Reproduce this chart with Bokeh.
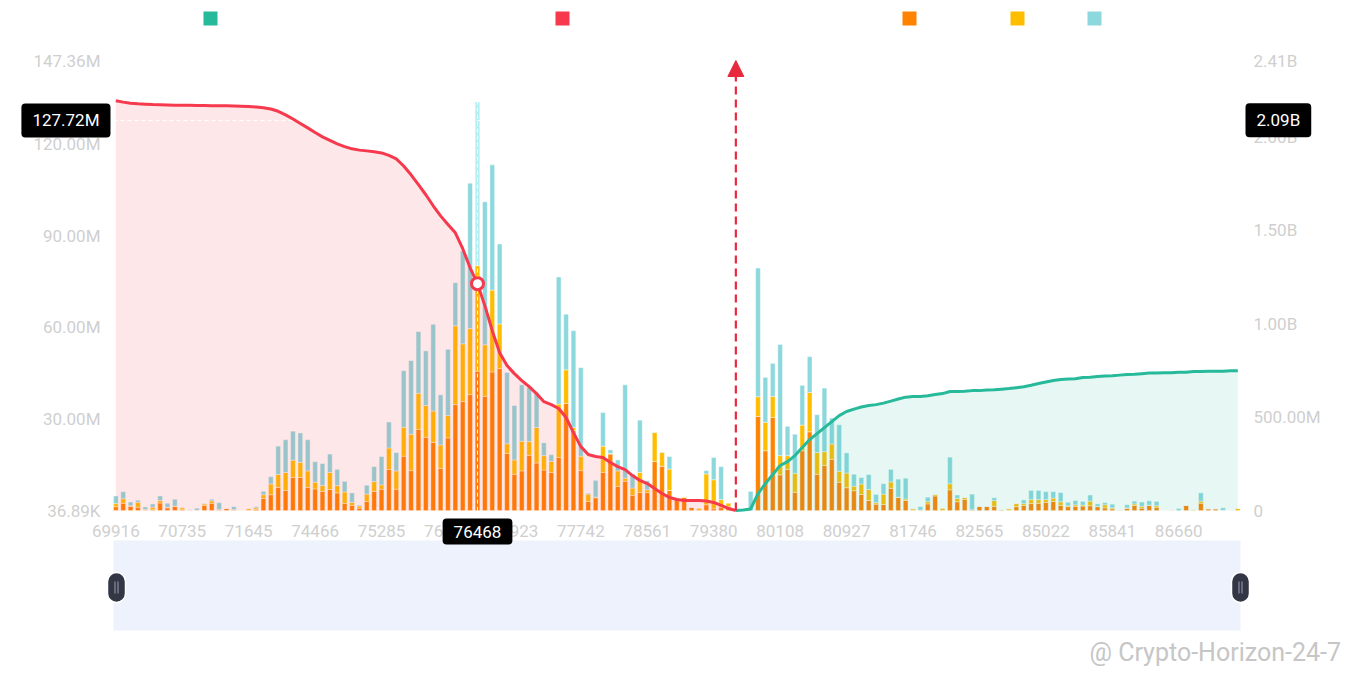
import numpy as np
from bokeh.plotting import figure
from bokeh.models import (Range1d, Label, BoxAnnotation, Arrow, NormalHead, ColumnDataSource)
from bokeh.core.properties import value
from bokeh.embed import file_html
from bokeh.resources import INLINE

# ---------------- data ----------------
tick_prices = ["69916", "70735", "71645", "74466", "75285", "76104", "76923", "77742", "78561",
               "79380", "80108", "80927", "81746", "82565", "85022", "85841", "86660"]
tick_step = 9

# liquidation volume per price level (millions), three leverage groups
orange = [1.3, 2.4, 1.4, 1.1, 0.2, 0.3, 2.5, 0.9, 1.4, 0.3,
          0.1, 0.1, 1.7, 2.4, 0.3, 0.7, 0.2, 0, 0.2, 0.4,
          4.0, 5.2, 7.6, 6.6, 10.9, 10.9, 7.6, 7.1, 6.3, 6.9,
          5.8, 2.4, 1.7, 0.8, 3.0, 6.3, 7.0, 13.5, 7.0, 17.8,
          13.1, 26.6, 24.0, 22.3, 13.8, 23.8, 34.7, 35.7, 38.0, 45.6,
          37.4, 45.4, 46.5, 18.7, 11.9, 13.0, 18.1, 15.6, 13.3, 12.5,
          17.4, 35.1, 26.2, 13.1, 3.0, 4.2, 12.5, 18.5, 7.9, 9.6,
          5.0, 5.9, 5.9, 16.1, 14.5, 6.6, 3.8, 4.3, 1.1, 0.1,
          1.9, 0.6, 1.1, 1.3, 0, 0, 0, 30.8, 19.6, 30.5,
          11.7, 13.5, 6.0, 19.6, 25.8, 11.9, 14.8, 16.8, 9.3, 7.5,
          6.5, 5.3, 3.3, 2.1, 2.0, 7.3, 4.3, 3.3, 0.1, 0.2,
          2.2, 4.8, 0.1, 6.8, 2.9, 3.7, 0.3, 1.4, 1.4, 1.4,
          0.2, 0.1, 1.3, 1.7, 2.3, 2.4, 2.7, 3.0, 1.7, 1.3,
          1.4, 1.5, 1.6, 1.3, 0.9, 0.6, 0.1, 0.7, 1.7, 0.8,
          1.7, 1.1, 0, 0.1, 0, 1.7, 0.1, 2.4, 0.6, 0.6,
          0.1, 0, 0]
yellow = [1.0, 1.5, 0.2, 1.6, 0.2, 0.8, 0.8, 0.2, 0.1, 0.6,
          0.1, 0.0, 0.5, 0.8, 0.1, 0, 0.1, 0, 0.5, 0.5,
          1.2, 3.5, 4.2, 5.9, 5.6, 4.9, 5.4, 2.2, 1.9, 5.6,
          2.4, 3.7, 1.0, 0.7, 2.4, 3.2, 1.4, 7.0, 6.0, 9.5,
          11.9, 11.8, 10.4, 10.3, 7.7, 7.3, 25.8, 18.9, 21.6, 34.6,
          16.9, 26.8, 14.6, 3.2, 4.7, 9.7, 4.5, 11.6, 4.7, 3.6,
          17.5, 11.0, 1.0, 4.7, 2.4, 0.2, 8.6, 0.2, 5.1, 1.0,
          2.4, 6.6, 0.9, 9.5, 4.6, 7.0, 0.3, 0.2, 0, 0.7,
          10.1, 9.5, 2.5, 1.2, 0, 0, 0, 6.5, 9.3, 6.9,
          6.3, 4.5, 6.2, 8.4, 12.9, 7.1, 4.5, 5.0, 3.6, 4.8,
          1.5, 3.4, 3.6, 0.5, 3.4, 2.1, 0.1, 0.5, 0.5, 0,
          0.8, 0.5, 0.7, 2.0, 1.1, 0.6, 0, 0, 0, 1.9,
          0.1, 0.5, 1.0, 0.6, 1.3, 1.2, 0.9, 1.1, 1.2, 0.3,
          0.5, 0.3, 1.5, 0.1, 1.0, 0.3, 0.1, 0.2, 0.5, 0.6,
          0.1, 0.5, 0, 0.1, 0, 0, 0.2, 0.7, 0, 0,
          0, 0, 0.7]
cyan = [2.5, 2.3, 1.2, 0.7, 0.8, 1.1, 1.5, 1.3, 2.2, 0.1,
        0.1, 0.7, 0.1, 0.5, 2.2, 0, 1.0, 0, 0, 0.4,
        1.1, 2.4, 9.3, 10.7, 9.5, 9.6, 10.2, 6.7, 7.2, 6.0,
        5.3, 3.5, 3.1, 0.3, 2.9, 4.9, 9.3, 8.5, 6.0, 18.5,
        24.1, 20.2, 17.9, 28.4, 16.4, 21.7, 14.1, 30.4, 47.6, 53.6,
        46.8, 41.0, 26.2, 23.3, 17.8, 18.5, 17.7, 11.2, 4.2, 2.2,
        41.6, 18.2, 31.7, 29.0, 0.3, 5.5, 11.0, 1.2, 3.6, 30.6,
        4.6, 17.1, 3.0, 0.1, 0.1, 4.1, 0, 0, 0, 0,
        1.1, 7.3, 10.8, 0, 0, 0, 6.3, 42.1, 14.7, 10.8,
        36.4, 9.6, 12.8, 13.0, 11.7, 12.4, 20.8, 8.5, 15.2, 6.6,
        3.9, 2.1, 4.9, 2.7, 3.4, 4.1, 5.9, 6.8, 0, 1.1,
        1.4, 0, 0, 8.7, 1.1, 0, 5.1, 0, 0, 0.9,
        0, 0, 0, 1.2, 3.0, 3.0, 2.6, 2.1, 3.0, 1.1,
        1.4, 1.2, 2.0, 0.8, 0.7, 1.2, 0, 1.0, 0.9, 1.4,
        1.4, 1.4, 0, 0, 0.7, 0, 0, 2.7, 0, 0,
        0.8, 0, 0]

# cumulative liquidation (billions)
red_cum = [2.194, 2.187, 2.181, 2.178, 2.176, 2.174, 2.173, 2.172, 2.171, 2.170,
           2.170, 2.169, 2.169, 2.168, 2.168, 2.167, 2.166, 2.165, 2.163, 2.161,
           2.157, 2.150, 2.138, 2.119, 2.097, 2.073, 2.049, 2.024, 2.001, 1.982,
           1.964, 1.949, 1.937, 1.930, 1.926, 1.921, 1.915, 1.902, 1.883, 1.845,
           1.798, 1.745, 1.691, 1.632, 1.578, 1.532, 1.487, 1.402, 1.300, 1.215,
           1.097, 0.963, 0.845, 0.776, 0.733, 0.696, 0.663, 0.626, 0.583, 0.567,
           0.546, 0.498, 0.417, 0.342, 0.300, 0.289, 0.284, 0.257, 0.235, 0.219,
           0.187, 0.161, 0.144, 0.118, 0.091, 0.070, 0.059, 0.054, 0.054, 0.053,
           0.051, 0.043, 0.027, 0.011, 0.0]
green_cum = [0.0, 0.003, 0.008, 0.090, 0.144, 0.193, 0.241, 0.262, 0.294, 0.337,
             0.380, 0.412, 0.444, 0.476, 0.508, 0.530, 0.543, 0.554, 0.562, 0.567,
             0.575, 0.586, 0.597, 0.607, 0.610, 0.610, 0.615, 0.621, 0.626, 0.637,
             0.637, 0.639, 0.642, 0.642, 0.645, 0.647, 0.650, 0.653, 0.658, 0.663,
             0.671, 0.680, 0.688, 0.696, 0.701, 0.704, 0.706, 0.712, 0.714, 0.717,
             0.720, 0.722, 0.725, 0.728, 0.730, 0.733, 0.736, 0.736, 0.738, 0.738,
             0.741, 0.741, 0.744, 0.744, 0.746, 0.746, 0.746, 0.749, 0.749]

current_idx = 84          # current price position
pointer_idx = 49          # hovered price level
pointer_price = "76468"
pointer_left = 127.72e6
pointer_right = 2.09e9
left_ticks = [36890, 30e6, 60e6, 90e6, 120e6, 147.36e6]
left_labels = ["36.89K", "30.00M", "60.00M", "90.00M", "120.00M", "147.36M"]
right_ticks = [0, 0.5e9, 1.0e9, 1.5e9, 2.0e9, 2.41e9]
right_labels = ["0", "500.00M", "1.00B", "1.50B", "2.00B", "2.41B"]
watermark = "@ Crypto-Horizon-24-7"

# ---------------- colours ----------------
C_OR, C_YE, C_CY, C_CY_HI = "#ff8200", "#ffbd00", "#8dd8dc", "#b4eff3"
C_RED, C_GREEN = "#f6394c", "#26b99a"
C_TXT = "#cfcfcf"
FONT = "Roboto"

# ---------------- layout (page pixels) ----------------
W, H = 1350, 672
FL, FR, FT, FB = 113, 1239, 60, 510          # plotting area on the page
n = len(orange)
C0 = 115.3                                    # page x of first category
DX = (1237.3 - C0) / (n - 1)                  # pixels per category
SL = (left_ticks[-1] - left_ticks[0]) / (FB - FT)   # left-axis units per pixel
SR = (right_ticks[-1] - right_ticks[0]) / (FB - FT)  # right-axis units per pixel


def xd(px):
    return (px - C0) / DX


def yd(py):
    return left_ticks[0] + (FB - py) * SL


p = figure(width=W, height=H,
           x_range=Range1d(xd(0), xd(W)),
           y_range=Range1d(yd(H), yd(0)),
           output_backend="svg", toolbar_location=None,
           x_axis_location=None, y_axis_location=None, min_border=0)
p.extra_y_ranges = {"right": Range1d(right_ticks[0] - (H - FB) * SR, right_ticks[0] + FB * SR)}
p.grid.visible = False
p.outline_line_color = None
p.background_fill_color = "white"
p.border_fill_color = "white"

# ---------------- axis tick labels ----------------
tk = dict(text_font=value(FONT), text_font_size=value("17px"), text_color=C_TXT,
          text_baseline="middle")
p.text(x=[xd(FL - 13)] * len(left_ticks), y=left_ticks, text=left_labels,
       text_align="right", **tk)
p.text(x=[xd(FR + 14)] * len(right_ticks), y=right_ticks, text=right_labels,
       text_align="left", y_range_name="right", **tk)
p.text(x=[i * tick_step for i in range(len(tick_prices))], y=[yd(530)] * len(tick_prices),
       text=tick_prices, text_align="center", **tk)

# ---------------- bars ----------------
o = np.array(orange) * 1e6
yv = np.array(yellow) * 1e6
cv = np.array(cyan) * 1e6
cy_col = [C_CY_HI if i == pointer_idx else C_CY for i in range(n)]
src = ColumnDataSource(dict(x=np.arange(n), o_top=o, y_top=o + yv, c_top=o + yv + cv,
                            c_col=cy_col))
bw = 0.64
common = dict(width=bw, line_color="white", line_width=0.6, line_alpha=0.7, source=src)
p.vbar(x="x", bottom=0, top="o_top", fill_color=C_OR, **common)
p.vbar(x="x", bottom="o_top", top="y_top", fill_color=C_YE, **common)
p.vbar(x="x", bottom="y_top", top="c_top", fill_color="c_col", **common)

# ---------------- cumulative areas / lines ----------------
rx = np.arange(len(red_cum))
ry = np.array(red_cum) * 1e9
gx = np.arange(current_idx, current_idx + len(green_cum))
gy = np.array(green_cum) * 1e9
p.varea(x=rx, y1=0, y2=ry, y_range_name="right", fill_color=C_RED, fill_alpha=0.12)
p.varea(x=gx, y1=0, y2=gy, y_range_name="right", fill_color=C_GREEN, fill_alpha=0.115)

# axis pointer (white dashed cross inside the plotting area)
p.segment(x0=[pointer_idx], y0=[0], x1=[pointer_idx], y1=[left_ticks[-1]],
          line_color="white", line_dash="4 3", line_width=1)
p.segment(x0=[xd(FL)], y0=[pointer_left], x1=[xd(FR)], y1=[pointer_left],
          line_color="white", line_dash="4 3", line_width=1)

p.line(rx, ry, y_range_name="right", line_color=C_RED, line_width=3, line_join="round")
p.line(gx, gy, y_range_name="right", line_color=C_GREEN, line_width=3, line_join="round")
p.scatter([pointer_idx], [red_cum[pointer_idx] * 1e9], y_range_name="right", size=12,
          fill_color="white", line_color=C_RED, line_width=3)

# current price arrow
p.add_layout(Arrow(end=NormalHead(size=16, fill_color="#e8283c", line_color="#e8283c"),
                   x_start=current_idx, y_start=0, x_end=current_idx, y_end=right_ticks[-1],
                   y_range_name="right", line_color="#e8283c", line_width=2.2,
                   line_dash="8 5"))

# ---------------- legend squares ----------------
for lx, col in [(203, C_GREEN), (555, C_RED), (902, C_OR), (1010, C_YE), (1087, C_CY)]:
    p.add_layout(BoxAnnotation(left=xd(lx), right=xd(lx + 14), top=yd(11), bottom=yd(25),
                               fill_color=col, fill_alpha=1, line_alpha=0))

# ---------------- data-zoom slider ----------------
p.add_layout(BoxAnnotation(left=xd(113), right=xd(1240), top=yd(540), bottom=yd(630),
                           fill_color="#edf2fd", fill_alpha=1, line_alpha=0))
for hx in (116, 1240):
    p.add_layout(BoxAnnotation(left=xd(hx - 9), right=xd(hx + 9), top=yd(572), bottom=yd(602),
                               fill_color="#323645", fill_alpha=1, line_color="white",
                               line_width=1.5, line_alpha=1, border_radius=9))
    for dx in (-2, 1):
        p.add_layout(BoxAnnotation(left=xd(hx + dx), right=xd(hx + dx + 1), top=yd(581),
                                   bottom=yd(593), fill_color="#9aa0b4", fill_alpha=1,
                                   line_alpha=0))

# ---------------- pointer labels ----------------
lab_kw = dict(text_color="white", text_font=FONT, text_font_size="17px",
              background_fill_color="black", background_fill_alpha=1,
              border_radius=4, padding=dict(left=11, right=11, top=7, bottom=7),
              text_baseline="middle")
p.add_layout(Label(x=xd(110), y=pointer_left, text="127.72M", text_align="right", **lab_kw))
p.add_layout(Label(x=xd(1245), y=pointer_right, y_range_name="right", text="2.09B",
                   text_align="left", **lab_kw))
p.add_layout(Label(x=pointer_idx, y=yd(531), text=pointer_price, text_align="center", **lab_kw))

# ---------------- watermark ----------------
p.add_layout(Label(x=xd(1089), y=yd(652), text=watermark, text_align="left",
                   text_baseline="middle", text_font=FONT, text_font_size="25px",
                   text_color="#c6c6c6"))

open("out.html", "w").write(file_html(p, INLINE))
